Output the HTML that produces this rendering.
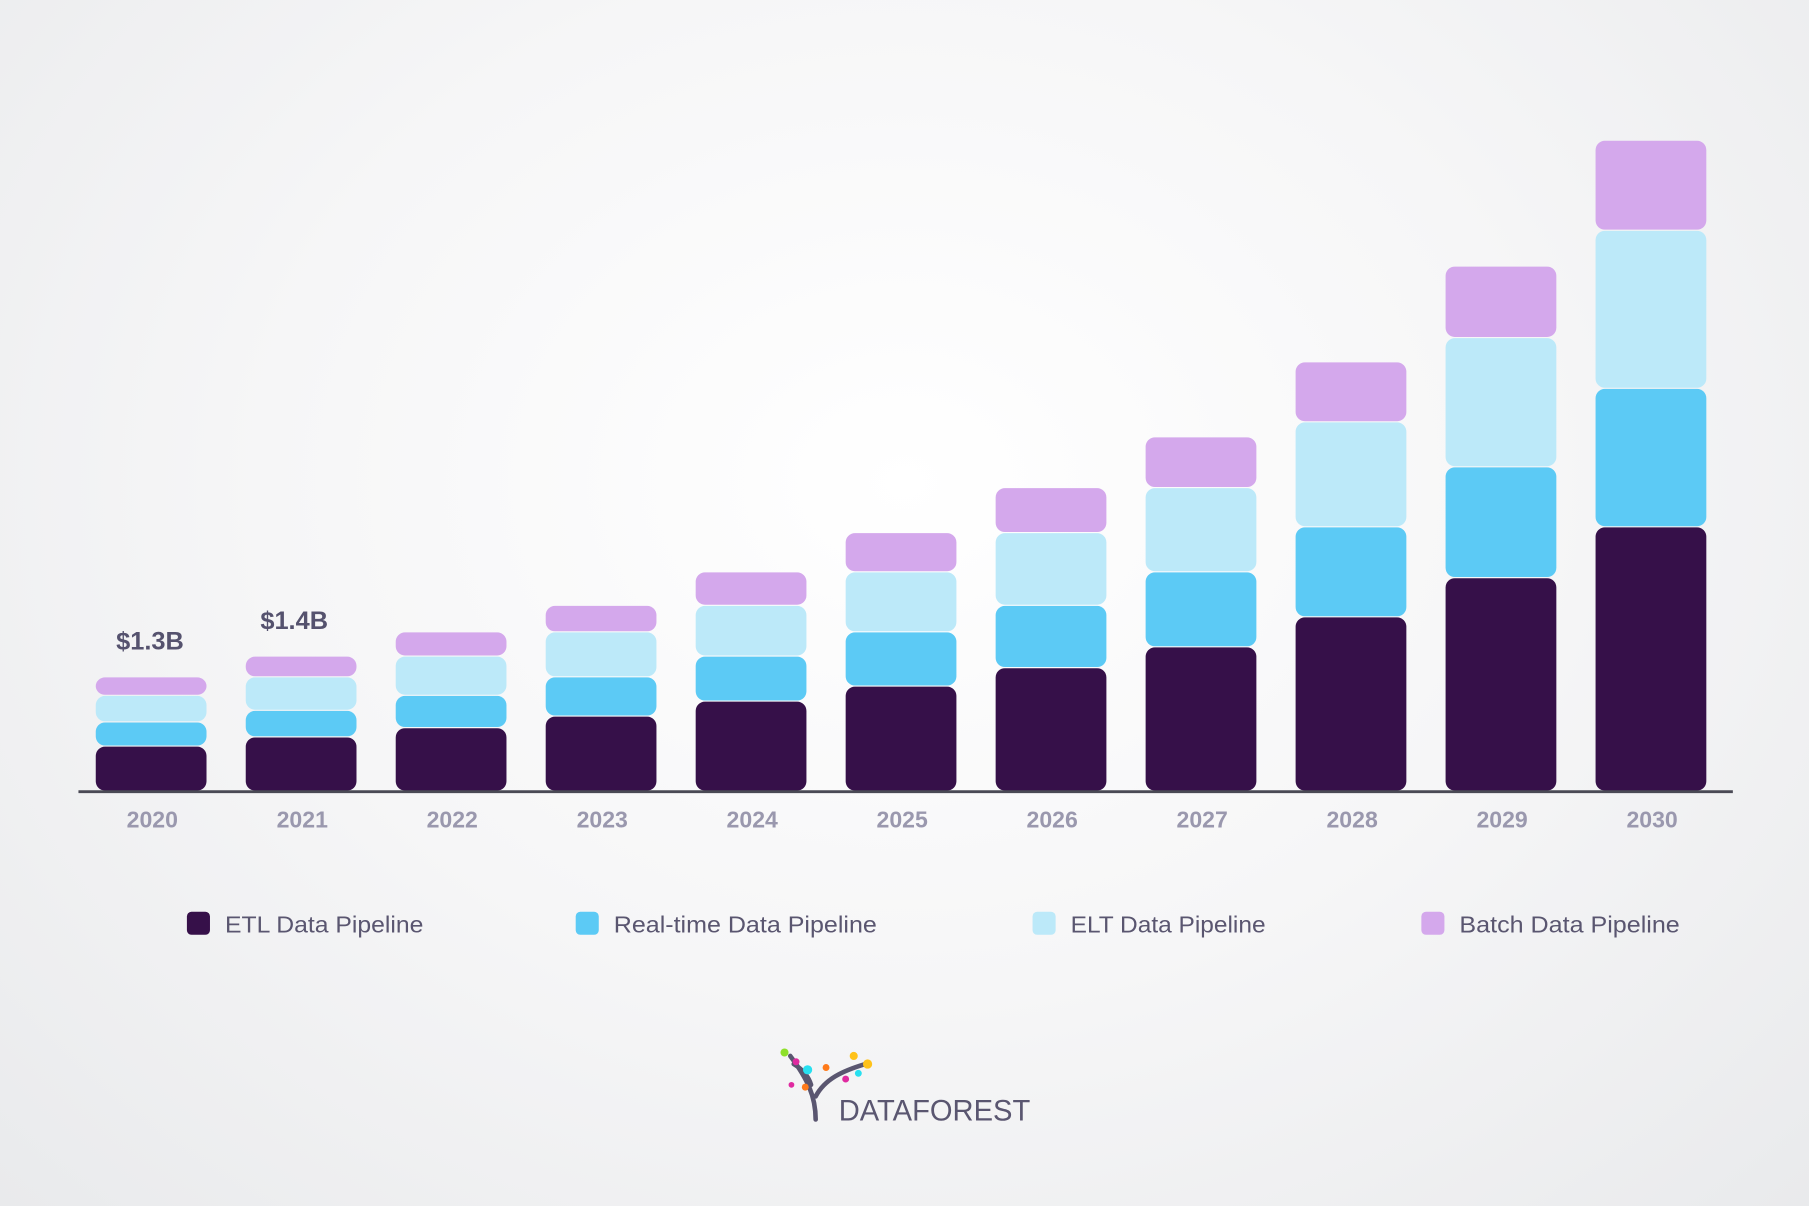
<!DOCTYPE html>
<html><head><meta charset="utf-8"><style>
html,body{margin:0;padding:0;width:1809px;height:1206px;overflow:hidden;}
body{background:radial-gradient(ellipse at 50% 40%,#ffffff 0%,#f6f6f7 50%,#e9eaec 100%);font-family:"Liberation Sans",sans-serif;}
svg{display:block}
</style></head><body>
<svg id="chart" width="1809" height="1206" viewBox="0 0 1568 1045" preserveAspectRatio="none" xmlns="http://www.w3.org/2000/svg">
<g id="bars"></g>
<line x1="68" y1="686" x2="1502" y2="686" stroke="#4a4a55" stroke-width="2.5"/>
<g id="xlabels"></g>
<text x="130" y="563" text-anchor="middle" font-family="Liberation Sans, sans-serif" font-weight="bold" font-size="22" fill="#55526e">$1.3B</text>
<text x="255" y="545" text-anchor="middle" font-family="Liberation Sans, sans-serif" font-weight="bold" font-size="22" fill="#55526e">$1.4B</text>
<g id="legend"></g>
<g>
 <path d="M707 970 C707 950 700 935 685 915 M707 950 C715 935 730 928 750 922 M703 940 C700 930 693 925 688 922" stroke="#5a5670" stroke-width="4" fill="none" stroke-linecap="round"/>
 <circle cx="680" cy="912" r="3.5" fill="#8ee02a"/><circle cx="690" cy="920" r="3" fill="#e02aa0"/><circle cx="700" cy="927" r="4" fill="#28e0f0"/><circle cx="716" cy="925" r="3" fill="#ff7a1a"/><circle cx="740" cy="915" r="3.5" fill="#ffc21a"/><circle cx="752" cy="922" r="4" fill="#ffc21a"/><circle cx="733" cy="935" r="3" fill="#e02aa0"/><circle cx="744" cy="930" r="3" fill="#28e0f0"/><circle cx="686" cy="940" r="2.5" fill="#e02aa0"/><circle cx="698" cy="942" r="3" fill="#ff7a1a"/>
 <text x="727" y="971" font-family="Liberation Sans, sans-serif" font-size="26" fill="#5a5670" textLength="166" lengthAdjust="spacingAndGlyphs">DATAFOREST</text>
</g>
</svg>
<script>
const years = ["2020","2021","2022","2023","2024","2025","2026","2027","2028","2029","2030"];
const etl = [39,47,55,65,78,91,107,125,151,185,229];
const realtime = [21,23,28,34,39,47,54,65,78,96,120];
const elt = [23,29,34,39,44,52,63,73,91,112,137];
const batch = [16,18,21,23,29,34,39,44,52,62,78];
const seriesNames = ["ETL Data Pipeline","Real-time Data Pipeline","ELT Data Pipeline","Batch Data Pipeline"];
const colors = ["#361049","#5ccaf5","#bce9f9","#d4a8ec"];
const NS="http://www.w3.org/2000/svg";
const baseY=686, plotTop=86, yMax=600;
function yScale(v){return v*(baseY-plotTop)/yMax;}
function xCenter(i){return 131+i*130;}
const barW=96;
const series=[etl,realtime,elt,batch];
const gb=document.getElementById('bars');
const gx=document.getElementById('xlabels');
years.forEach((yr,i)=>{
  let acc=0;
  series.forEach((s,k)=>{
    const h=yScale(s[i]);
    const r=document.createElementNS(NS,'rect');
    r.setAttribute('x',xCenter(i)-barW/2);
    r.setAttribute('y',baseY-yScale(acc)-h);
    r.setAttribute('width',barW);
    r.setAttribute('height',Math.max(h-1,1));
    r.setAttribute('rx',Math.min(8,h/2));
    r.setAttribute('fill',colors[k]);
    
    
    gb.appendChild(r);
    acc+=s[i];
  });
  const t=document.createElementNS(NS,'text');
  t.setAttribute('x',xCenter(i)+1);t.setAttribute('y',717);
  t.setAttribute('text-anchor','middle');t.setAttribute('font-family','Liberation Sans, sans-serif');
  t.setAttribute('font-weight','bold');t.setAttribute('font-size','20');t.setAttribute('fill','#9a98ae');
  t.textContent=yr;
  
  
  gx.appendChild(t);
});
const lg=document.getElementById('legend');
const lx=[162,499,895,1232];
const lw=[172,228,169,191];
seriesNames.forEach((n,k)=>{
  const g=document.createElementNS(NS,'g');
  
  
  const r=document.createElementNS(NS,'rect');
  r.setAttribute('x',lx[k]);r.setAttribute('y',790);r.setAttribute('width',20);r.setAttribute('height',20);r.setAttribute('rx',4);r.setAttribute('fill',colors[k]);
  g.appendChild(r);
  const t=document.createElementNS(NS,'text');
  t.setAttribute('x',lx[k]+33);t.setAttribute('y',808);t.setAttribute('font-family','Liberation Sans, sans-serif');t.setAttribute('font-size','20');t.setAttribute('fill','#5a5670');
  t.setAttribute('textLength',lw[k]);t.setAttribute('lengthAdjust','spacingAndGlyphs');
  t.textContent=n;
  g.appendChild(t);
  lg.appendChild(g);
});
</script>
</body></html>
